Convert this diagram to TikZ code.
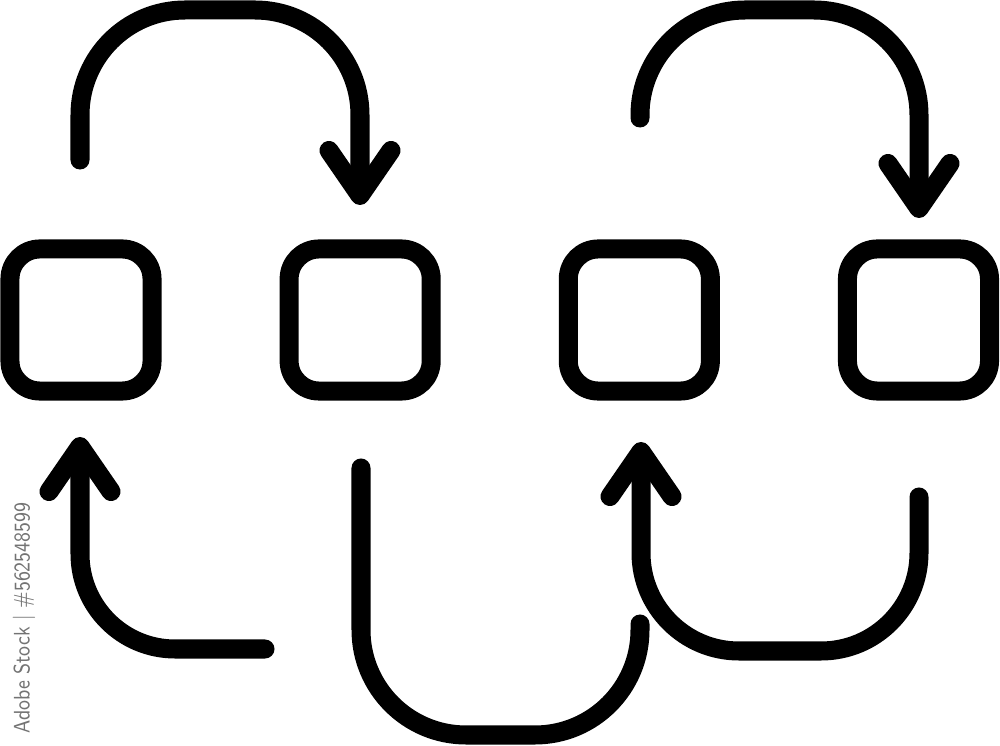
\documentclass[tikz,border=0pt]{standalone}
\usetikzlibrary{arrows.meta,positioning}

\begin{document}
\begin{tikzpicture}%
	[x=0.01cm,
	y=-0.01cm,
	box/.style={draw=black, line width=0.19cm, rounded corners=0.3cm, minimum size=1.42cm, inner sep=0pt, outer sep=0pt},
	flow/.style={draw=black, line width=0.19cm, line cap=round, line join=round, rounded corners=1.05cm},
	flowtip/.style={-{Straight Barb[length=0.45cm, width=0.62cm, round]}},
	stamp/.style={color=black!55, font=\sffamily\fontsize{6.4}{7}\selectfont, inner sep=0pt}]
%
\useasboundingbox (0,0) rectangle (1000,746);
%%
%% the four boxes
%%
\node[box] (sq1) at (81,320) {};
\node[box, right=1.37cm of sq1] (sq2) {};
\node[box, right=1.37cm of sq2] (sq3) {};
\node[box, right=1.37cm of sq3] (sq4) {};
%%
%% ends of the flows
%%
\coordinate (hopA) at (80,160);
\coordinate (landA) at (360,205);
\coordinate (hopB) at (640,118);
\coordinate (landB) at (919,218);
\coordinate (hopC) at (265,649);
\coordinate (landC) at (80,437);
\coordinate (dipD) at (361,468);
\coordinate (endD) at (640,624);
\coordinate (hopE) at (919,497);
\coordinate (landE) at (641,442);
%%
%% flows over the top
%%
\draw[flow, flowtip] (hopA) -- ++(0,-150) -| (landA);
\draw[flow, flowtip] (hopB) -- ++(0,-108) -| (landB);
%%
%% flows under the boxes
%%
\draw[flow, flowtip, rounded corners=0.95cm] (hopC) -| (landC);
\draw[flow] (dipD) -- ++(0,267) -| (endD);
\draw[flow, flowtip, rounded corners=0.98cm] (hopE) -- ++(0,154) -| (landE);
%%
% \node[stamp] at (500,373) {};
\node[stamp, rotate=90] (stamp) at (24,618) {\scalebox{0.83}[1]{Adobe Stock \textbar{} \#562548599}};

\end{tikzpicture}
\end{document}
